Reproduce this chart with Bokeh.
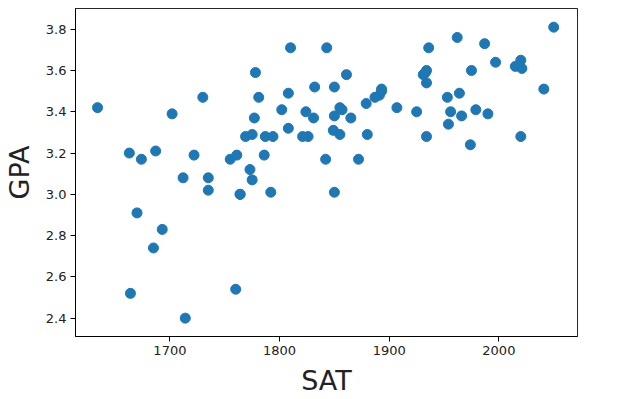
from bokeh.plotting import figure
from bokeh.models import FixedTicker, PrintfTickFormatter, Range1d, ColumnDataSource
from bokeh.embed import file_html
from bokeh.resources import INLINE

sat = [1714, 1664, 1760, 1685, 1693, 1670, 1764, 1764, 1792, 1850, 1735, 1775, 1735, 1712,
       1773, 1872, 1755, 1674, 1842, 1786, 1761, 1722, 1663, 1687, 1974, 1826, 1787, 1821,
       2020, 1794, 1769, 1934, 1775, 1855, 1880, 1849, 1808, 1954, 1777, 1831, 1865, 1850,
       1966, 1702, 1990, 1925, 1824, 1956, 1857, 1979, 1802, 1855, 1907, 1634, 1879, 1887,
       1730, 1953, 1781, 1891, 1964, 1808, 1893, 2041, 1893, 1832, 1850, 1934, 1861, 1931,
       1933, 1778, 1975, 1934, 2021, 2015, 1997, 2020, 1843, 1936, 1810, 1987, 1962, 2050]
gpa = [2.40, 2.52, 2.54, 2.74, 2.83, 2.91, 3.00, 3.00, 3.01, 3.01, 3.02, 3.07, 3.08, 3.08,
       3.12, 3.17, 3.17, 3.17, 3.17, 3.19, 3.19, 3.19, 3.20, 3.21, 3.24, 3.28, 3.28, 3.28,
       3.28, 3.28, 3.28, 3.28, 3.29, 3.29, 3.29, 3.31, 3.32, 3.34, 3.37, 3.37, 3.37, 3.38,
       3.38, 3.39, 3.39, 3.40, 3.40, 3.40, 3.41, 3.41, 3.41, 3.42, 3.42, 3.42, 3.44, 3.47,
       3.47, 3.47, 3.47, 3.48, 3.49, 3.49, 3.50, 3.51, 3.51, 3.52, 3.52, 3.54, 3.58, 3.58,
       3.59, 3.59, 3.60, 3.60, 3.61, 3.62, 3.64, 3.65, 3.71, 3.71, 3.71, 3.73, 3.76, 3.81]
x_ticks = [1700, 1800, 1900, 2000]
y_ticks = [2.4, 2.6, 2.8, 3.0, 3.2, 3.4, 3.6, 3.8]

src = ColumnDataSource(dict(sat=sat, gpa=gpa))

p = figure(output_backend="svg", toolbar_location=None,
           frame_width=502, frame_height=328,
           min_border_left=60, min_border_top=8, min_border_right=30, min_border_bottom=55,
           x_range=Range1d(1613.9, 2071.7), y_range=Range1d(2.311, 3.9005))

p.scatter("sat", "gpa", source=src, size=10, fill_color="#1f77b4", line_color="#1f77b4")

p.grid.visible = False
p.outline_line_color = "black"
p.outline_line_width = 1
p.outline_line_alpha = 0.85

for ax, ticks in ((p.xaxis[0], x_ticks), (p.yaxis[0], y_ticks)):
    ax.ticker = FixedTicker(ticks=ticks)
    ax.minor_tick_line_color = None
    ax.major_tick_in = 0
    ax.major_tick_out = 5
    ax.major_tick_line_color = "black"
    ax.axis_line_color = "black"
    ax.major_label_text_font = "DejaVu Sans"
    ax.major_label_text_font_size = "13px"
    ax.major_label_text_color = "#222222"
    ax.axis_label_text_font = "DejaVu Sans"
    ax.axis_label_text_font_size = "27px"
    ax.axis_label_text_font_style = "normal"
    ax.axis_label_text_color = "#222222"

p.yaxis[0].formatter = PrintfTickFormatter(format="%.1f")
p.xaxis[0].formatter = PrintfTickFormatter(format="%d")
p.xaxis[0].axis_label = "SAT"
p.yaxis[0].axis_label = "GPA"
p.xaxis[0].major_label_standoff = 4
p.xaxis[0].axis_label_standoff = 7
p.yaxis[0].major_label_standoff = 4
p.yaxis[0].axis_label_standoff = 8

open("out.html", "w").write(file_html(p, INLINE))
